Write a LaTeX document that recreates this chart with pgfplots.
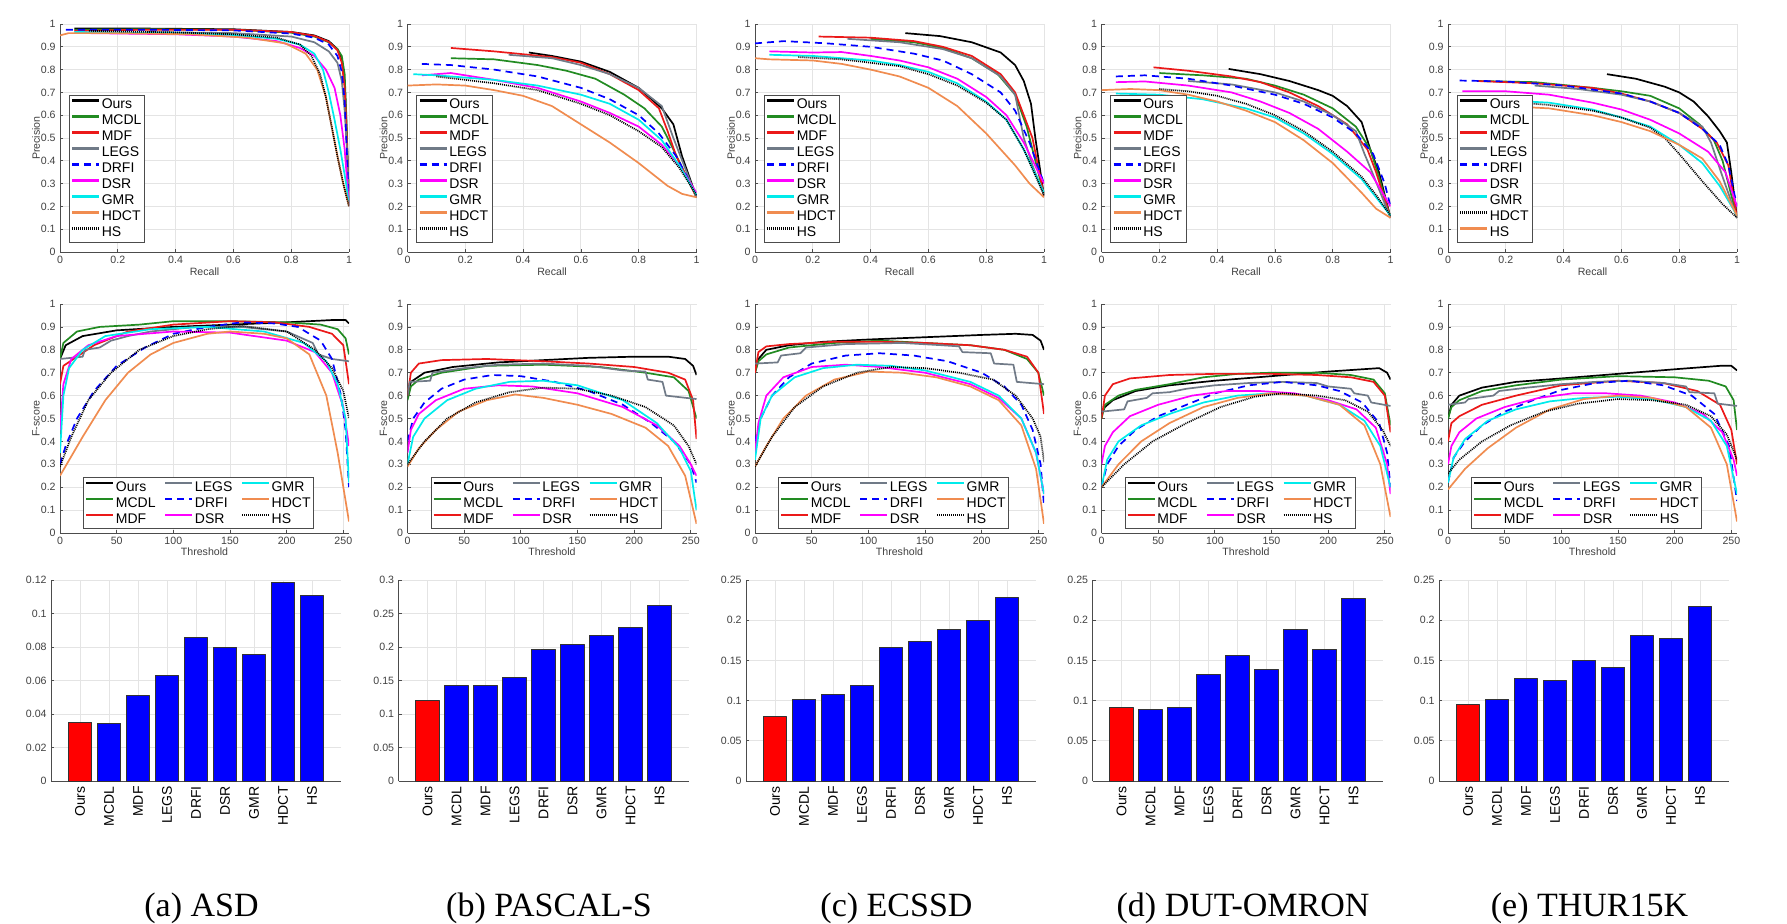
\documentclass[border=0pt]{standalone}
\usepackage{fontspec}
\setmainfont{Liberation Sans}
\newfontfamily\capfont{Liberation Serif}
\usepackage{pgfplots}
\pgfplotsset{compat=1.18}

\definecolor{cMCDL}{RGB}{34,139,34}
\definecolor{cMDF}{RGB}{235,25,25}
\definecolor{cLEGS}{RGB}{112,122,135}
\definecolor{cDRFI}{RGB}{0,0,255}
\definecolor{cDSR}{RGB}{255,0,255}
\definecolor{cGMR}{RGB}{0,235,235}
\definecolor{cHDCT}{RGB}{240,140,80}
\definecolor{gridc}{RGB}{228,228,228}

\pgfplotsset{
  lOurs/.style={black, line width=0.85pt},
  lMCDL/.style={cMCDL, line width=0.85pt},
  lMDF/.style={cMDF, line width=0.85pt},
  lLEGS/.style={cLEGS, line width=0.85pt},
  lDRFI/.style={cDRFI, line width=0.85pt, dash pattern=on 3.5pt off 2.5pt},
  lDSR/.style={cDSR, line width=0.85pt},
  lGMR/.style={cGMR, line width=0.85pt},
  lHDCT/.style={cHDCT, line width=0.85pt},
  lHS/.style={black, line width=0.85pt, dash pattern=on 0.5pt off 0.5pt},
  base/.style={
    scale only axis, anchor=south west,
    axis x line*=bottom, axis y line*=left,
    axis line style={-, black!70, line width=0.5pt},
    grid=major, major grid style={gridc, line width=0.45pt},
    tick align=inside, major tick length=1.5pt,
    tick style={black!70, line width=0.4pt},
    ticklabel style={font=\fontsize{5.3}{6}\selectfont, text=black!75, inner sep=2pt},
    label style={font=\fontsize{5.3}{6}\selectfont, text=black!75},
    /pgf/number format/assume math mode=true,
    /pgf/number format/fixed, /pgf/number format/precision=2,
    scaled ticks=false,
    every axis plot/.append style={mark=none, line join=round},
    legend image code/.code={\draw[##1, line width=1.1pt] (0pt,2.2pt) -- (13.5pt,2.2pt);},
    legend cell align=left,
    legend style={draw=black!70, line width=0.5pt, fill=white, inner sep=0.75pt,
      font=\fontsize{7}{8}\selectfont,
      nodes={inner ysep=0pt, inner xsep=0.8pt, text height=6pt, text depth=2pt}},
  },
  prax/.style={base, width=144.5pt, height=114pt,
    xmin=0, xmax=1, ymin=0, ymax=1,
    xtick={0,0.2,0.4,0.6,0.8,1},
    ytick={0,0.1,0.2,0.3,0.4,0.5,0.6,0.7,0.8,0.9,1},
    xlabel={Recall}, ylabel={Precision},
    xlabel style={at={(axis description cs:0.5,0)}, anchor=center, yshift=-10pt},
    ylabel style={at={([xshift=-12pt]axis description cs:0,0.5)}, anchor=center},
    legend style={at={(0.031,0.04)}, anchor=south west}},
  fax/.style={base, width=144.5pt, height=114.5pt,
    xmin=0, xmax=255, ymin=0, ymax=1,
    xtick={0,50,100,150,200,250},
    ytick={0,0.1,0.2,0.3,0.4,0.5,0.6,0.7,0.8,0.9,1},
    xlabel={Threshold}, ylabel={F-score},
    xlabel style={at={(axis description cs:0.5,0)}, anchor=center, yshift=-9.5pt},
    ylabel style={at={([xshift=-12pt]axis description cs:0,0.5)}, anchor=center},
    legend columns=3, transpose legend,
    legend style={at={(0.08,0.0175)}, anchor=south west,
      /tikz/every even column/.append style={column sep=3.5pt}}},
  bax/.style={base, width=145pt, height=100.5pt,
    xmin=0, xmax=10, ymin=0,
    xtick={1,2,3,4,5,6,7,8,9},
    xticklabels={Ours,MCDL,MDF,LEGS,DRFI,DSR,GMR,HDCT,HS},
    xticklabel style={yshift=-2.5pt, rotate=90, anchor=east, inner sep=0pt,
      font=\fontsize{7}{8}\selectfont, text=black}},
  ours bar/.style={ybar, bar width=0.8, bar shift=0, fill=red, draw=black!80, line width=0.5pt},
  other bar/.style={ybar, bar width=0.8, bar shift=0, fill=blue, draw=black!80, line width=0.5pt},
}

\begin{document}
\begin{tikzpicture}
\useasboundingbox (0,0) rectangle (893.5pt,-461.5pt);

% ---------------- (a) ASD ----------------
\begin{axis}[prax, at={(30pt,-126pt)}]
\addplot[lOurs] coordinates {(0.05,0.98) (0.3,0.98) (0.6,0.977) (0.8,0.965) (0.88,0.95) (0.93,0.925) (0.96,0.89) (0.975,0.85) (0.985,0.75) (0.99,0.6) (0.995,0.4) (1,0.2)};
\addlegendentry{Ours}
\addplot[lMCDL] coordinates {(0.05,0.975) (0.3,0.977) (0.6,0.975) (0.8,0.962) (0.88,0.945) (0.93,0.92) (0.96,0.89) (0.975,0.86) (0.985,0.78) (0.99,0.62) (0.995,0.42) (1,0.2)};
\addlegendentry{MCDL}
\addplot[lMDF] coordinates {(0.05,0.97) (0.3,0.975) (0.6,0.975) (0.8,0.965) (0.88,0.948) (0.93,0.922) (0.96,0.885) (0.975,0.83) (0.985,0.72) (0.99,0.58) (0.995,0.4) (1,0.2)};
\addlegendentry{MDF}
\addplot[lLEGS] coordinates {(0.3,0.965) (0.6,0.96) (0.8,0.945) (0.88,0.92) (0.93,0.88) (0.96,0.83) (0.975,0.75) (0.985,0.62) (0.995,0.4) (1,0.2)};
\addlegendentry{LEGS}
\addplot[lDRFI] coordinates {(0.02,0.975) (0.3,0.975) (0.6,0.972) (0.8,0.958) (0.88,0.94) (0.93,0.91) (0.96,0.86) (0.975,0.79) (0.985,0.66) (0.99,0.52) (1,0.2)};
\addlegendentry{DRFI}
\addplot[lDSR] coordinates {(0.1,0.96) (0.4,0.955) (0.6,0.945) (0.75,0.925) (0.83,0.895) (0.88,0.86) (0.92,0.8) (0.95,0.72) (0.97,0.6) (0.985,0.45) (1,0.2)};
\addlegendentry{DSR}
\addplot[lGMR] coordinates {(0.05,0.965) (0.4,0.96) (0.6,0.952) (0.75,0.935) (0.83,0.91) (0.88,0.87) (0.91,0.8) (0.93,0.7) (0.95,0.58) (0.97,0.45) (0.99,0.3) (1,0.2)};
\addlegendentry{GMR}
\addplot[lHDCT] coordinates {(0,0.95) (0.03,0.96) (0.2,0.96) (0.45,0.955) (0.65,0.94) (0.78,0.915) (0.85,0.87) (0.89,0.8) (0.92,0.68) (0.94,0.55) (0.96,0.42) (0.98,0.3) (1,0.2)};
\addlegendentry{HDCT}
\addplot[lHS] coordinates {(0.1,0.97) (0.4,0.963) (0.6,0.955) (0.75,0.94) (0.83,0.91) (0.87,0.86) (0.9,0.78) (0.92,0.68) (0.94,0.55) (0.96,0.42) (0.98,0.3) (1,0.2)};
\addlegendentry{HS}
\end{axis}

\begin{axis}[fax, at={(30pt,-266.5pt)}]
\addplot[lOurs] coordinates {(0,0.76) (5,0.82) (20,0.86) (50,0.885) (100,0.9) (150,0.91) (200,0.92) (240,0.93) (252,0.93) (255,0.915)};
\addlegendentry{Ours}
\addplot[lMCDL] coordinates {(0,0.76) (3,0.83) (15,0.88) (35,0.9) (70,0.91) (100,0.925) (150,0.925) (200,0.92) (230,0.91) (245,0.89) (252,0.85) (255,0.78)};
\addlegendentry{MCDL}
\addplot[lMDF] coordinates {(0,0.65) (3,0.73) (15,0.77) (30,0.82) (60,0.88) (100,0.91) (150,0.925) (190,0.92) (220,0.9) (240,0.87) (250,0.82) (255,0.65)};
\addlegendentry{MDF}
\addplot[lLEGS] coordinates {(0,0.76) (20,0.77) (22,0.8) (35,0.81) (45,0.84) (60,0.86) (80,0.88) (120,0.9) (160,0.9) (200,0.88) (223,0.83) (228,0.78) (240,0.76) (255,0.75)};
\addlegendentry{LEGS}
\addplot[lDRFI] coordinates {(0,0.3) (5,0.38) (15,0.5) (30,0.62) (50,0.73) (75,0.81) (100,0.87) (130,0.9) (160,0.92) (190,0.915) (210,0.9) (230,0.84) (240,0.76) (248,0.6) (252,0.45) (255,0.2)};
\addlegendentry{DRFI}
\addplot[lDSR] coordinates {(0,0.45) (3,0.65) (10,0.76) (25,0.82) (50,0.86) (100,0.88) (150,0.875) (200,0.84) (225,0.79) (240,0.7) (250,0.55) (255,0.38)};
\addlegendentry{DSR}
\addplot[lGMR] coordinates {(0,0.35) (3,0.6) (8,0.72) (20,0.8) (40,0.86) (80,0.89) (130,0.9) (180,0.88) (215,0.83) (235,0.75) (245,0.65) (252,0.5) (255,0.22)};
\addlegendentry{GMR}
\addplot[lHDCT] coordinates {(0,0.25) (20,0.42) (40,0.58) (60,0.7) (80,0.78) (100,0.83) (130,0.87) (150,0.88) (180,0.87) (200,0.85) (220,0.78) (235,0.6) (245,0.35) (255,0.05)};
\addlegendentry{HDCT}
\addplot[lHS] coordinates {(0,0.29) (10,0.42) (25,0.58) (45,0.7) (70,0.8) (100,0.86) (130,0.89) (160,0.905) (200,0.88) (225,0.8) (240,0.72) (250,0.62) (255,0.5)};
\addlegendentry{HS}
\end{axis}

\begin{axis}[bax, at={(25.5pt,-390.5pt)}, ymax=0.12, ytick={0,0.02,0.04,0.06,0.08,0.1,0.12}]
\addplot[ours bar] coordinates {(1,0.035)};
\addplot[other bar] coordinates {(2,0.0345) (3,0.051) (4,0.063) (5,0.0855) (6,0.080) (7,0.0755) (8,0.1185) (9,0.1105)};
\end{axis}

% ---------------- (b) PASCAL-S ----------------
\begin{axis}[prax, at={(203.75pt,-126pt)}]
\addplot[lOurs] coordinates {(0.42,0.875) (0.5,0.86) (0.6,0.835) (0.7,0.79) (0.8,0.72) (0.88,0.63) (0.92,0.56) (0.95,0.42) (1,0.24)};
\addlegendentry{Ours}
\addplot[lMCDL] coordinates {(0.15,0.85) (0.3,0.845) (0.45,0.82) (0.55,0.795) (0.65,0.76) (0.75,0.69) (0.82,0.63) (0.88,0.55) (0.92,0.45) (1,0.24)};
\addlegendentry{MCDL}
\addplot[lMDF] coordinates {(0.15,0.895) (0.3,0.88) (0.5,0.855) (0.6,0.83) (0.7,0.78) (0.8,0.71) (0.87,0.63) (0.9,0.53) (0.93,0.42) (1,0.24)};
\addlegendentry{MDF}
\addplot[lLEGS] coordinates {(0.35,0.865) (0.5,0.85) (0.6,0.82) (0.7,0.78) (0.8,0.72) (0.88,0.64) (0.92,0.5) (1,0.24)};
\addlegendentry{LEGS}
\addplot[lDRFI] coordinates {(0.05,0.825) (0.15,0.82) (0.3,0.8) (0.45,0.77) (0.6,0.72) (0.7,0.67) (0.8,0.6) (0.87,0.52) (0.93,0.42) (1,0.25)};
\addlegendentry{DRFI}
\addplot[lDSR] coordinates {(0.05,0.775) (0.15,0.785) (0.3,0.755) (0.45,0.72) (0.6,0.66) (0.7,0.61) (0.8,0.55) (0.88,0.47) (0.94,0.38) (1,0.26)};
\addlegendentry{DSR}
\addplot[lGMR] coordinates {(0.02,0.78) (0.1,0.775) (0.3,0.755) (0.45,0.73) (0.6,0.69) (0.7,0.65) (0.8,0.58) (0.88,0.49) (0.94,0.38) (1,0.25)};
\addlegendentry{GMR}
\addplot[lHDCT] coordinates {(0,0.73) (0.1,0.735) (0.2,0.73) (0.3,0.71) (0.4,0.685) (0.5,0.64) (0.6,0.56) (0.7,0.48) (0.8,0.39) (0.9,0.29) (0.95,0.255) (1,0.24)};
\addlegendentry{HDCT}
\addplot[lHS] coordinates {(0.1,0.77) (0.3,0.74) (0.45,0.71) (0.6,0.65) (0.7,0.6) (0.8,0.53) (0.88,0.46) (0.94,0.37) (1,0.25)};
\addlegendentry{HS}
\end{axis}

\begin{axis}[fax, at={(203.75pt,-266.5pt)}]
\addplot[lOurs] coordinates {(0,0.6) (3,0.66) (15,0.7) (40,0.725) (80,0.745) (120,0.755) (160,0.765) (200,0.77) (230,0.77) (245,0.76) (252,0.73) (255,0.69)};
\addlegendentry{Ours}
\addplot[lMCDL] coordinates {(0,0.58) (3,0.64) (10,0.67) (30,0.7) (70,0.73) (120,0.735) (170,0.725) (210,0.7) (235,0.68) (248,0.62) (255,0.5)};
\addlegendentry{MCDL}
\addplot[lMDF] coordinates {(0,0.6) (3,0.7) (10,0.74) (30,0.755) (70,0.76) (120,0.75) (160,0.74) (200,0.725) (230,0.7) (245,0.67) (252,0.58) (255,0.41)};
\addlegendentry{MDF}
\addplot[lLEGS] coordinates {(0,0.6) (2,0.66) (20,0.665) (22,0.7) (50,0.72) (80,0.735) (120,0.74) (160,0.73) (190,0.71) (210,0.705) (212,0.67) (225,0.66) (228,0.6) (255,0.585)};
\addlegendentry{LEGS}
\addplot[lDRFI] coordinates {(0,0.4) (5,0.5) (15,0.57) (30,0.63) (50,0.67) (75,0.69) (100,0.685) (130,0.66) (160,0.62) (190,0.56) (215,0.48) (235,0.4) (250,0.3) (255,0.22)};
\addlegendentry{DRFI}
\addplot[lDSR] coordinates {(0,0.35) (3,0.45) (10,0.52) (25,0.58) (50,0.63) (80,0.645) (110,0.64) (150,0.61) (190,0.55) (220,0.47) (240,0.38) (250,0.3) (255,0.25)};
\addlegendentry{DSR}
\addplot[lGMR] coordinates {(0,0.3) (5,0.42) (15,0.5) (35,0.58) (60,0.63) (90,0.66) (120,0.665) (150,0.645) (190,0.58) (220,0.48) (240,0.37) (250,0.27) (255,0.1)};
\addlegendentry{GMR}
\addplot[lHDCT] coordinates {(0,0.29) (10,0.37) (25,0.45) (45,0.53) (70,0.58) (95,0.605) (120,0.59) (150,0.56) (180,0.52) (210,0.46) (230,0.38) (245,0.25) (255,0.04)};
\addlegendentry{HDCT}
\addplot[lHS] coordinates {(0,0.3) (15,0.4) (35,0.5) (60,0.57) (90,0.615) (120,0.635) (150,0.63) (180,0.6) (210,0.55) (235,0.47) (248,0.38) (255,0.3)};
\addlegendentry{HS}
\end{axis}

\begin{axis}[bax, at={(199.25pt,-390.5pt)}, ymax=0.3, ytick={0,0.05,0.1,0.15,0.2,0.25,0.3}]
\addplot[ours bar] coordinates {(1,0.12)};
\addplot[other bar] coordinates {(2,0.142) (3,0.142) (4,0.155) (5,0.196) (6,0.204) (7,0.217) (8,0.229) (9,0.262)};
\end{axis}

% ---------------- (c) ECSSD ----------------
\begin{axis}[prax, at={(377.5pt,-126pt)}]
\addplot[lOurs] coordinates {(0.52,0.96) (0.64,0.947) (0.75,0.92) (0.85,0.875) (0.9,0.82) (0.93,0.75) (0.955,0.65) (0.97,0.5) (1,0.245)};
\addlegendentry{Ours}
\addplot[lMCDL] coordinates {(0.4,0.935) (0.55,0.92) (0.65,0.895) (0.75,0.85) (0.84,0.78) (0.9,0.69) (0.94,0.55) (1,0.25)};
\addlegendentry{MCDL}
\addplot[lMDF] coordinates {(0.22,0.945) (0.4,0.94) (0.55,0.925) (0.65,0.9) (0.75,0.86) (0.85,0.78) (0.9,0.7) (0.93,0.6) (0.96,0.5) (1,0.245)};
\addlegendentry{MDF}
\addplot[lLEGS] coordinates {(0.32,0.935) (0.5,0.92) (0.65,0.89) (0.75,0.85) (0.85,0.77) (0.9,0.69) (0.93,0.5) (0.96,0.38) (1,0.25)};
\addlegendentry{LEGS}
\addplot[lDRFI] coordinates {(0,0.915) (0.1,0.925) (0.25,0.915) (0.4,0.9) (0.55,0.87) (0.65,0.84) (0.75,0.78) (0.85,0.7) (0.9,0.62) (0.95,0.48) (1,0.3)};
\addlegendentry{DRFI}
\addplot[lDSR] coordinates {(0.05,0.88) (0.2,0.875) (0.3,0.877) (0.4,0.86) (0.5,0.84) (0.6,0.81) (0.7,0.76) (0.8,0.68) (0.87,0.6) (0.93,0.48) (1,0.3)};
\addlegendentry{DSR}
\addplot[lGMR] coordinates {(0.05,0.865) (0.2,0.86) (0.4,0.84) (0.5,0.82) (0.6,0.79) (0.7,0.74) (0.8,0.66) (0.87,0.58) (0.93,0.45) (1,0.26)};
\addlegendentry{GMR}
\addplot[lHDCT] coordinates {(0,0.85) (0.05,0.845) (0.2,0.84) (0.3,0.825) (0.4,0.8) (0.5,0.77) (0.6,0.72) (0.7,0.64) (0.8,0.52) (0.9,0.38) (0.95,0.3) (1,0.24)};
\addlegendentry{HDCT}
\addplot[lHS] coordinates {(0.15,0.855) (0.3,0.845) (0.4,0.83) (0.5,0.815) (0.6,0.78) (0.7,0.73) (0.8,0.655) (0.87,0.58) (0.93,0.45) (1,0.25)};
\addlegendentry{HS}
\end{axis}

\begin{axis}[fax, at={(377.5pt,-266.5pt)}]
\addplot[lOurs] coordinates {(0,0.7) (3,0.76) (10,0.8) (30,0.82) (60,0.835) (100,0.845) (150,0.855) (200,0.865) (230,0.87) (245,0.865) (252,0.84) (255,0.8)};
\addlegendentry{Ours}
\addplot[lMCDL] coordinates {(0,0.7) (3,0.75) (10,0.78) (30,0.81) (70,0.83) (110,0.84) (150,0.83) (190,0.82) (220,0.8) (240,0.76) (250,0.7) (255,0.6)};
\addlegendentry{MCDL}
\addplot[lMDF] coordinates {(0,0.7) (3,0.79) (10,0.815) (30,0.825) (70,0.835) (110,0.835) (150,0.83) (190,0.82) (220,0.8) (240,0.77) (250,0.7) (255,0.52)};
\addlegendentry{MDF}
\addplot[lLEGS] coordinates {(0,0.74) (20,0.745) (23,0.775) (40,0.785) (45,0.81) (80,0.825) (130,0.83) (165,0.82) (180,0.815) (183,0.79) (208,0.785) (211,0.74) (228,0.735) (231,0.66) (255,0.65)};
\addlegendentry{LEGS}
\addplot[lDRFI] coordinates {(0,0.4) (5,0.5) (15,0.6) (30,0.68) (50,0.74) (80,0.775) (110,0.785) (140,0.775) (170,0.75) (200,0.7) (220,0.64) (235,0.56) (245,0.45) (252,0.3) (255,0.12)};
\addlegendentry{DRFI}
\addplot[lDSR] coordinates {(0,0.35) (3,0.48) (10,0.6) (25,0.68) (50,0.725) (80,0.735) (110,0.725) (150,0.7) (190,0.65) (215,0.59) (235,0.5) (248,0.35) (255,0.17)};
\addlegendentry{DSR}
\addplot[lGMR] coordinates {(0,0.32) (5,0.5) (15,0.6) (35,0.68) (60,0.72) (90,0.735) (120,0.73) (150,0.71) (190,0.66) (215,0.6) (235,0.5) (248,0.35) (255,0.17)};
\addlegendentry{GMR}
\addplot[lHDCT] coordinates {(0,0.29) (10,0.38) (25,0.5) (45,0.6) (70,0.67) (100,0.705) (130,0.7) (160,0.68) (190,0.64) (215,0.58) (235,0.47) (248,0.28) (255,0.04)};
\addlegendentry{HDCT}
\addplot[lHS] coordinates {(0,0.29) (15,0.42) (35,0.55) (60,0.64) (90,0.7) (120,0.725) (150,0.72) (180,0.7) (210,0.67) (230,0.6) (245,0.5) (252,0.42) (255,0.31)};
\addlegendentry{HS}
\end{axis}

\begin{axis}[bax, at={(373pt,-390.5pt)}, ymax=0.25, ytick={0,0.05,0.1,0.15,0.2,0.25}]
\addplot[ours bar] coordinates {(1,0.08)};
\addplot[other bar] coordinates {(2,0.102) (3,0.108) (4,0.119) (5,0.166) (6,0.173) (7,0.189) (8,0.2) (9,0.228)};
\end{axis}

% ---------------- (d) DUT-OMRON ----------------
\begin{axis}[prax, at={(550.75pt,-126pt)}]
\addplot[lOurs] coordinates {(0.44,0.803) (0.55,0.78) (0.65,0.75) (0.75,0.71) (0.8,0.685) (0.85,0.64) (0.9,0.57) (0.93,0.45) (0.96,0.35) (1,0.15)};
\addlegendentry{Ours}
\addplot[lMCDL] coordinates {(0.2,0.785) (0.35,0.775) (0.5,0.76) (0.6,0.73) (0.7,0.69) (0.8,0.63) (0.88,0.55) (0.93,0.45) (0.96,0.33) (1,0.15)};
\addlegendentry{MCDL}
\addplot[lMDF] coordinates {(0.18,0.81) (0.3,0.795) (0.45,0.77) (0.55,0.745) (0.65,0.7) (0.75,0.64) (0.85,0.56) (0.92,0.45) (0.95,0.35) (1,0.15)};
\addlegendentry{MDF}
\addplot[lLEGS] coordinates {(0.3,0.75) (0.45,0.735) (0.6,0.7) (0.7,0.66) (0.8,0.6) (0.88,0.53) (0.91,0.43) (0.93,0.37) (1,0.15)};
\addlegendentry{LEGS}
\addplot[lDRFI] coordinates {(0.05,0.77) (0.15,0.775) (0.3,0.76) (0.45,0.73) (0.6,0.69) (0.7,0.65) (0.8,0.59) (0.88,0.52) (0.94,0.43) (0.98,0.3) (1,0.2)};
\addlegendentry{DRFI}
\addplot[lDSR] coordinates {(0.05,0.745) (0.15,0.748) (0.3,0.73) (0.45,0.7) (0.55,0.66) (0.65,0.61) (0.75,0.54) (0.85,0.44) (0.93,0.35) (1,0.2)};
\addlegendentry{DSR}
\addplot[lGMR] coordinates {(0.05,0.695) (0.2,0.69) (0.35,0.67) (0.5,0.63) (0.6,0.59) (0.7,0.52) (0.8,0.43) (0.9,0.32) (0.95,0.24) (1,0.16)};
\addlegendentry{GMR}
\addplot[lHDCT] coordinates {(0,0.71) (0.1,0.715) (0.2,0.71) (0.3,0.69) (0.4,0.66) (0.5,0.62) (0.6,0.57) (0.7,0.49) (0.8,0.39) (0.9,0.26) (0.95,0.19) (1,0.15)};
\addlegendentry{HDCT}
\addplot[lHS] coordinates {(0.2,0.715) (0.3,0.705) (0.4,0.685) (0.5,0.65) (0.6,0.6) (0.7,0.53) (0.8,0.44) (0.9,0.33) (0.95,0.25) (1,0.16)};
\addlegendentry{HS}
\end{axis}

\begin{axis}[fax, at={(550.75pt,-266.5pt)}]
\addplot[lOurs] coordinates {(0,0.52) (3,0.55) (10,0.58) (30,0.62) (60,0.645) (100,0.665) (150,0.685) (200,0.705) (230,0.715) (245,0.72) (252,0.7) (255,0.67)};
\addlegendentry{Ours}
\addplot[lMCDL] coordinates {(0,0.5) (3,0.56) (15,0.6) (30,0.625) (60,0.65) (90,0.68) (120,0.695) (150,0.7) (190,0.7) (220,0.69) (240,0.67) (250,0.61) (255,0.47)};
\addlegendentry{MCDL}
\addplot[lMDF] coordinates {(0,0.5) (3,0.6) (10,0.65) (25,0.675) (60,0.69) (100,0.695) (150,0.695) (190,0.69) (220,0.68) (240,0.66) (250,0.6) (255,0.44)};
\addlegendentry{MDF}
\addplot[lLEGS] coordinates {(0,0.53) (20,0.54) (23,0.575) (40,0.59) (45,0.61) (60,0.615) (75,0.63) (100,0.645) (130,0.655) (160,0.66) (190,0.655) (200,0.64) (220,0.63) (223,0.61) (235,0.6) (238,0.57) (255,0.555)};
\addlegendentry{LEGS}
\addplot[lDRFI] coordinates {(0,0.2) (5,0.3) (15,0.38) (30,0.45) (50,0.51) (75,0.56) (100,0.61) (130,0.645) (160,0.66) (190,0.645) (210,0.62) (230,0.57) (245,0.48) (252,0.35) (255,0.2)};
\addlegendentry{DRFI}
\addplot[lDSR] coordinates {(0,0.3) (3,0.38) (10,0.44) (25,0.51) (50,0.56) (80,0.6) (110,0.62) (140,0.62) (170,0.61) (200,0.58) (225,0.54) (242,0.46) (252,0.3) (255,0.17)};
\addlegendentry{DSR}
\addplot[lGMR] coordinates {(0,0.2) (5,0.32) (15,0.4) (35,0.47) (60,0.52) (90,0.57) (120,0.6) (150,0.61) (180,0.6) (210,0.56) (232,0.49) (246,0.38) (255,0.2)};
\addlegendentry{GMR}
\addplot[lHDCT] coordinates {(0,0.2) (15,0.3) (35,0.4) (60,0.48) (90,0.55) (120,0.59) (150,0.61) (180,0.6) (210,0.56) (232,0.47) (246,0.3) (255,0.07)};
\addlegendentry{HDCT}
\addplot[lHS] coordinates {(0,0.2) (20,0.3) (45,0.4) (75,0.48) (105,0.55) (135,0.595) (160,0.61) (190,0.6) (215,0.58) (235,0.53) (248,0.45) (255,0.38)};
\addlegendentry{HS}
\end{axis}

\begin{axis}[bax, at={(546.25pt,-390.5pt)}, ymax=0.25, ytick={0,0.05,0.1,0.15,0.2,0.25}]
\addplot[ours bar] coordinates {(1,0.091)};
\addplot[other bar] coordinates {(2,0.0885) (3,0.0915) (4,0.133) (5,0.1555) (6,0.139) (7,0.189) (8,0.164) (9,0.227)};
\end{axis}

% ---------------- (e) THUR15K ----------------
\begin{axis}[prax, at={(724pt,-126pt)}]
\addplot[lOurs] coordinates {(0.55,0.78) (0.65,0.76) (0.75,0.725) (0.8,0.7) (0.85,0.66) (0.9,0.595) (0.94,0.53) (0.965,0.48) (0.98,0.35) (1,0.15)};
\addlegendentry{Ours}
\addplot[lMCDL] coordinates {(0.1,0.75) (0.3,0.745) (0.5,0.72) (0.6,0.705) (0.7,0.685) (0.8,0.63) (0.87,0.56) (0.92,0.49) (0.95,0.4) (1,0.15)};
\addlegendentry{MCDL}
\addplot[lMDF] coordinates {(0.1,0.75) (0.3,0.74) (0.5,0.72) (0.6,0.695) (0.7,0.66) (0.8,0.61) (0.88,0.54) (0.93,0.48) (0.97,0.38) (1,0.15)};
\addlegendentry{MDF}
\addplot[lLEGS] coordinates {(0.3,0.73) (0.45,0.715) (0.6,0.69) (0.7,0.66) (0.8,0.61) (0.88,0.55) (0.91,0.48) (0.95,0.33) (1,0.15)};
\addlegendentry{LEGS}
\addplot[lDRFI] coordinates {(0.04,0.752) (0.2,0.748) (0.4,0.73) (0.6,0.695) (0.7,0.66) (0.8,0.61) (0.88,0.54) (0.94,0.47) (0.97,0.38) (1,0.2)};
\addlegendentry{DRFI}
\addplot[lDSR] coordinates {(0.05,0.705) (0.2,0.705) (0.35,0.69) (0.5,0.655) (0.6,0.625) (0.7,0.58) (0.8,0.52) (0.9,0.44) (0.96,0.35) (1,0.2)};
\addlegendentry{DSR}
\addplot[lGMR] coordinates {(0.05,0.67) (0.2,0.665) (0.35,0.655) (0.5,0.625) (0.6,0.59) (0.7,0.55) (0.8,0.47) (0.88,0.39) (0.94,0.29) (1,0.16)};
\addlegendentry{GMR}
\addplot[lHS] coordinates {(0.05,0.66) (0.2,0.66) (0.35,0.645) (0.5,0.62) (0.6,0.59) (0.7,0.545) (0.75,0.5) (0.8,0.43) (0.88,0.31) (0.95,0.21) (1,0.15)};
\addlegendentry{HDCT}
\addplot[lHDCT] coordinates {(0.05,0.64) (0.2,0.64) (0.35,0.63) (0.5,0.6) (0.6,0.57) (0.7,0.53) (0.8,0.47) (0.88,0.41) (0.94,0.31) (1,0.16)};
\addlegendentry{HS}
\end{axis}

\begin{axis}[fax, at={(724pt,-266.5pt)}]
\addplot[lOurs] coordinates {(0,0.5) (3,0.56) (10,0.6) (30,0.635) (60,0.66) (100,0.675) (150,0.695) (200,0.715) (240,0.73) (250,0.73) (255,0.71)};
\addlegendentry{Ours}
\addplot[lMCDL] coordinates {(0,0.5) (3,0.55) (10,0.58) (30,0.62) (60,0.645) (100,0.67) (150,0.685) (200,0.68) (230,0.665) (245,0.64) (252,0.58) (255,0.45)};
\addlegendentry{MCDL}
\addplot[lMDF] coordinates {(0,0.4) (3,0.48) (10,0.51) (30,0.56) (60,0.6) (100,0.645) (150,0.665) (190,0.655) (220,0.62) (240,0.56) (250,0.45) (255,0.3)};
\addlegendentry{MDF}
\addplot[lLEGS] coordinates {(0,0.56) (15,0.57) (18,0.585) (40,0.6) (45,0.62) (70,0.635) (100,0.65) (130,0.66) (160,0.665) (190,0.655) (210,0.64) (213,0.615) (235,0.61) (238,0.565) (255,0.555)};
\addlegendentry{LEGS}
\addplot[lDRFI] coordinates {(0,0.22) (5,0.33) (15,0.4) (30,0.47) (50,0.53) (75,0.58) (100,0.625) (130,0.655) (160,0.665) (190,0.645) (215,0.6) (235,0.52) (248,0.38) (255,0.14)};
\addlegendentry{DRFI}
\addplot[lDSR] coordinates {(0,0.3) (3,0.38) (10,0.44) (25,0.5) (50,0.55) (80,0.59) (110,0.61) (140,0.61) (170,0.6) (200,0.57) (225,0.52) (242,0.44) (252,0.32) (255,0.25)};
\addlegendentry{DSR}
\addplot[lGMR] coordinates {(0,0.22) (5,0.33) (15,0.41) (35,0.49) (60,0.54) (90,0.575) (120,0.59) (150,0.595) (180,0.585) (210,0.55) (232,0.49) (246,0.38) (255,0.17)};
\addlegendentry{GMR}
\addplot[lHDCT] coordinates {(0,0.19) (15,0.28) (35,0.37) (60,0.46) (90,0.54) (120,0.585) (150,0.6) (180,0.59) (210,0.55) (232,0.46) (246,0.3) (255,0.05)};
\addlegendentry{HDCT}
\addplot[lHS] coordinates {(0,0.26) (10,0.32) (30,0.4) (55,0.47) (85,0.53) (115,0.565) (150,0.585) (180,0.58) (210,0.56) (232,0.51) (246,0.43) (255,0.32)};
\addlegendentry{HS}
\end{axis}

\begin{axis}[bax, at={(719.5pt,-390.5pt)}, ymax=0.25, ytick={0,0.05,0.1,0.15,0.2,0.25}]
\addplot[ours bar] coordinates {(1,0.095)};
\addplot[other bar] coordinates {(2,0.102) (3,0.1273) (4,0.1248) (5,0.15) (6,0.1417) (7,0.1806) (8,0.1769) (9,0.2173)};
\end{axis}

% ---------------- captions ----------------
\begin{scope}[every node/.style={font=\capfont\fontsize{17}{19}\selectfont, anchor=base, inner sep=0pt}]
\node at (100.75pt,-458pt) {(a) ASD};
\node at (274.5pt,-458pt) {(b) PASCAL-S};
\node at (448.25pt,-458pt) {(c) ECSSD};
\node at (621.5pt,-458pt) {(d) DUT-OMRON};
\node at (794.75pt,-458pt) {(e) THUR15K};
\end{scope}
\end{tikzpicture}
\end{document}
